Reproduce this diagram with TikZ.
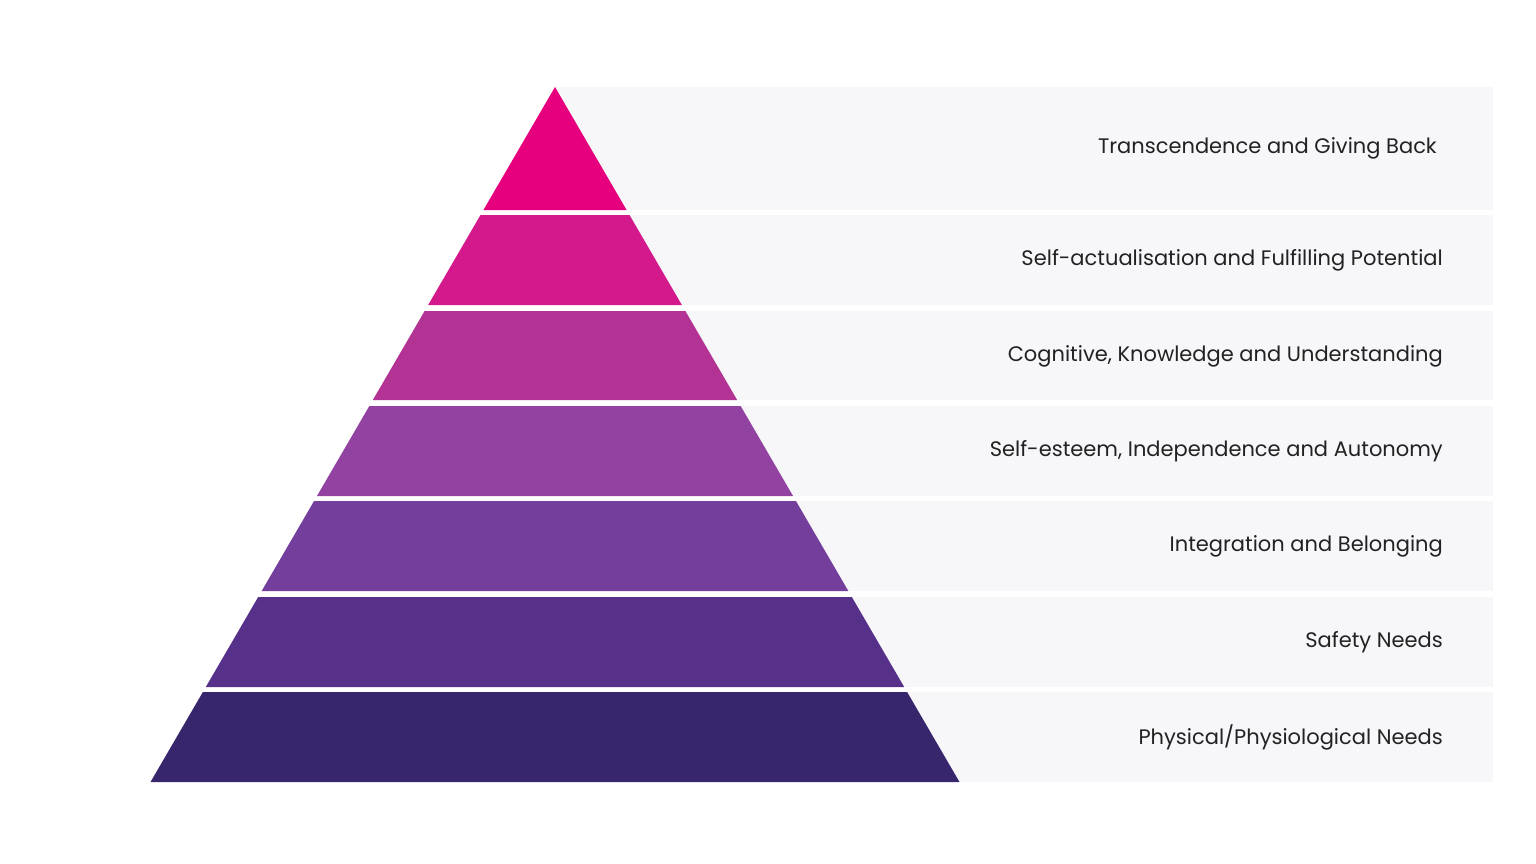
\documentclass[tikz,border=0pt]{standalone}
\usepackage{fontspec}
\setmainfont{Poppins}
\definecolor{bandg}{HTML}{F7F6F9}
\definecolor{cA}{HTML}{E6007E}
\definecolor{cB}{HTML}{D4198C}
\definecolor{cC}{HTML}{B23394}
\definecolor{cD}{HTML}{9242A0}
\definecolor{cE}{HTML}{743F9C}
\definecolor{cF}{HTML}{57308A}
\definecolor{cG}{HTML}{38266D}
\definecolor{txt}{HTML}{222222}
\tikzset{lbl/.style={anchor=east,font=\fontsize{21}{24}\selectfont,text=txt,inner sep=0pt}}
\begin{document}
\begin{tikzpicture}[x=1pt,y=-1pt]
\useasboundingbox (0,0) rectangle (1536,864);
\fill[white] (0,0) rectangle (1536,864);
\def\s{0.582}
\foreach \ya/\yb/\c/\n [count=\i] in {87/210/cA/a,215/305/cB/b,311/400/cC/c,406/496/cD/d,501/591/cE/e,597/687/cF/f,692/782/cG/g}{
  \fill[bandg] (555,\ya) rectangle (1493,\yb);
  \fill[\c] ({555-\s*(\ya-87)},\ya) -- ({555+\s*(\ya-87)},\ya) -- ({555+\s*(\yb-87)},\yb) -- ({555-\s*(\yb-87)},\yb) -- cycle;
}
\node[lbl] (t1) at (1437,148) {Transcendence and Giving Back};
\node[lbl] (t2) at (1443,260) {Self-actualisation and Fulfilling Potential};
\node[lbl] (t3) at (1443,356) {Cognitive, Knowledge and Understanding};
\node[lbl] (t4) at (1443,451) {Self-esteem, Independence and Autonomy};
\node[lbl] (t5) at (1443,546) {Integration and Belonging};
\node[lbl] (t6) at (1443,642) {Safety Needs};
\node[lbl] (t7) at (1443,737) {Physical/Physiological Needs};
\end{tikzpicture}
\end{document}
